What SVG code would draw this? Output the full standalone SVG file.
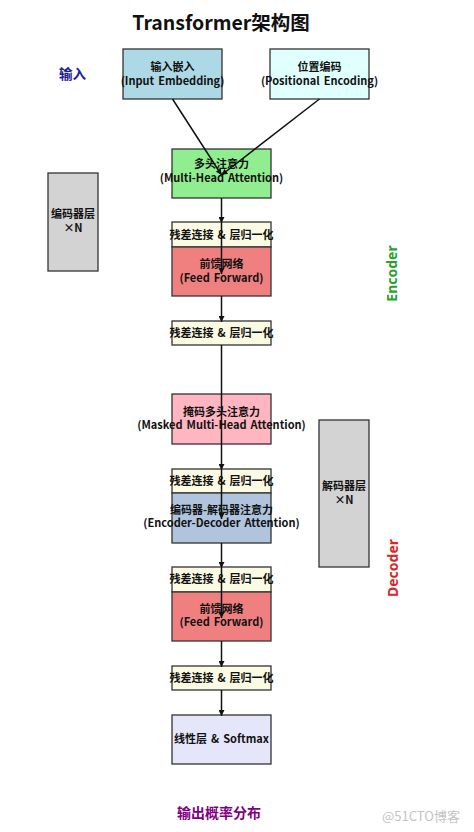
<svg xmlns="http://www.w3.org/2000/svg" width="474" height="832" viewBox="0 0 474 832">
<style>
.box{stroke:#333;stroke-width:1.3}
.t{font-family:"Noto Sans CJK SC","Noto Sans",sans-serif;font-weight:bold;font-size:11px;fill:#111;text-anchor:middle;word-spacing:1.5px}
.c{stroke:#111;stroke-width:1.5;fill:none}
</style>
<defs>
<marker id="ah" viewBox="0 0 10 10" refX="10" refY="5" markerWidth="6" markerHeight="6" markerUnits="userSpaceOnUse" orient="auto">
<path d="M0,0 L10,5 L0,10 z" fill="#111"/>
</marker>
</defs>
<rect width="474" height="832" fill="#fff"/>
<text x="221" y="30" style="font-family:'Noto Sans CJK SC','Noto Sans',sans-serif;font-weight:bold;font-size:19.5px;fill:#111;text-anchor:middle">Transformer架构图</text>
<text x="72.5" y="79" style="font-family:'Noto Sans CJK SC',sans-serif;font-weight:bold;font-size:13.5px;fill:#1c1c9e;text-anchor:middle">输入</text>

<g id="input-embedding"><rect class="box" x="123" y="49" width="99" height="50" fill="#add8e6"/><text class="t" x="172.5" y="71">输入嵌入<tspan x="172.5" dy="13.5">(Input Embedding)</tspan></text></g>
<g id="positional-encoding"><rect class="box" x="270" y="49" width="99" height="50" fill="#e0ffff"/><text class="t" x="319.5" y="71">位置编码<tspan x="319.5" dy="13.5">(Positional Encoding)</tspan></text></g>
<g id="multi-head-attention"><rect class="box" x="172" y="149" width="99" height="49" fill="#90ee90"/><text class="t" x="221.5" y="168">多头注意力<tspan x="221.5" dy="13.5">(Multi-Head Attention)</tspan></text></g>
<g id="encoder-layer"><rect class="box" x="48" y="173" width="50" height="98" fill="#d3d3d3"/><text class="t" x="73" y="218">编码器层<tspan x="73" dy="14">×N</tspan></text></g>
<g id="add-norm-1"><rect class="box" x="172" y="222" width="99" height="25" fill="#fbfae3"/><text class="t" x="221.5" y="238.5">残差连接 &amp; 层归一化</text></g>
<g id="feed-forward-1"><rect class="box" x="172" y="247" width="99" height="49" fill="#f08080"/><text class="t" x="221.5" y="268">前馈网络<tspan x="221.5" dy="13.5">(Feed Forward)</tspan></text></g>
<g id="add-norm-2"><rect class="box" x="172" y="321" width="99" height="24" fill="#fbfae3"/><text class="t" x="221.5" y="337">残差连接 &amp; 层归一化</text></g>
<g id="encoder-label"><text transform="translate(397,273.5) rotate(-90)" style="font-family:'Noto Sans','Noto Sans CJK SC',sans-serif;font-weight:bold;font-size:14px;fill:#2ca02c;text-anchor:middle">Encoder</text></g>

<g id="masked-attention"><rect class="box" x="172" y="394" width="99" height="50" fill="#ffb6c1"/><text class="t" x="221.5" y="415.5">掩码多头注意力<tspan x="221.5" dy="13.5">(Masked Multi-Head Attention)</tspan></text></g>
<g id="decoder-layer"><rect class="box" x="319" y="420" width="50" height="147" fill="#d3d3d3"/><text class="t" x="344" y="490">解码器层<tspan x="344" dy="14">×N</tspan></text></g>
<g id="add-norm-3"><rect class="box" x="172" y="469" width="99" height="24" fill="#fbfae3"/><text class="t" x="221.5" y="485">残差连接 &amp; 层归一化</text></g>
<g id="enc-dec-attention"><rect class="box" x="172" y="493" width="99" height="50" fill="#b0c4de"/><text class="t" x="221.5" y="513.5">编码器-解码器注意力<tspan x="221.5" dy="13.5">(Encoder-Decoder Attention)</tspan></text></g>
<g id="add-norm-4"><rect class="box" x="172" y="567" width="99" height="25" fill="#fbfae3"/><text class="t" x="221.5" y="583">残差连接 &amp; 层归一化</text></g>
<g id="feed-forward-2"><rect class="box" x="172" y="592" width="99" height="49" fill="#f08080"/><text class="t" x="221.5" y="612.5">前馈网络<tspan x="221.5" dy="13.5">(Feed Forward)</tspan></text></g>
<g id="add-norm-5"><rect class="box" x="172" y="666" width="99" height="24" fill="#fbfae3"/><text class="t" x="221.5" y="682">残差连接 &amp; 层归一化</text></g>
<g id="linear-softmax"><rect class="box" x="172" y="715" width="99" height="49" fill="#e6e6fa"/><text class="t" x="221.5" y="743">线性层 &amp; Softmax</text></g>
<g id="decoder-label"><text transform="translate(398,568) rotate(-90)" style="font-family:'Noto Sans','Noto Sans CJK SC',sans-serif;font-weight:bold;font-size:14px;fill:#d62728;text-anchor:middle">Decoder</text></g>
<g id="output"><text x="219" y="818" style="font-family:'Noto Sans CJK SC',sans-serif;font-weight:bold;font-size:14px;fill:#800080;text-anchor:middle">输出概率分布</text></g>

<g id="connectors">
<line class="c" x1="172.5" y1="99" x2="221.5" y2="175" marker-end="url(#ah)"/>
<line class="c" x1="319.5" y1="99" x2="221.5" y2="175" marker-end="url(#ah)"/>
<line class="c" x1="221.5" y1="198" x2="221.5" y2="223" marker-end="url(#ah)"/>
<line class="c" x1="221.5" y1="223" x2="221.5" y2="274" marker-end="url(#ah)"/>
<line class="c" x1="221.5" y1="296" x2="221.5" y2="322" marker-end="url(#ah)"/>
<line class="c" x1="221.5" y1="345" x2="221.5" y2="470" marker-end="url(#ah)"/>
<line class="c" x1="221.5" y1="470" x2="221.5" y2="519" marker-end="url(#ah)"/>
<line class="c" x1="221.5" y1="543" x2="221.5" y2="568" marker-end="url(#ah)"/>
<line class="c" x1="221.5" y1="568" x2="221.5" y2="618" marker-end="url(#ah)"/>
<line class="c" x1="221.5" y1="641" x2="221.5" y2="667" marker-end="url(#ah)"/>
<line class="c" x1="221.5" y1="690" x2="221.5" y2="716" marker-end="url(#ah)"/>
</g>
<text x="421" y="821" style="font-family:'Noto Sans CJK SC',sans-serif;font-size:13px;fill:#c4c4c4;text-anchor:middle">@51CTO博客</text>
</svg>
